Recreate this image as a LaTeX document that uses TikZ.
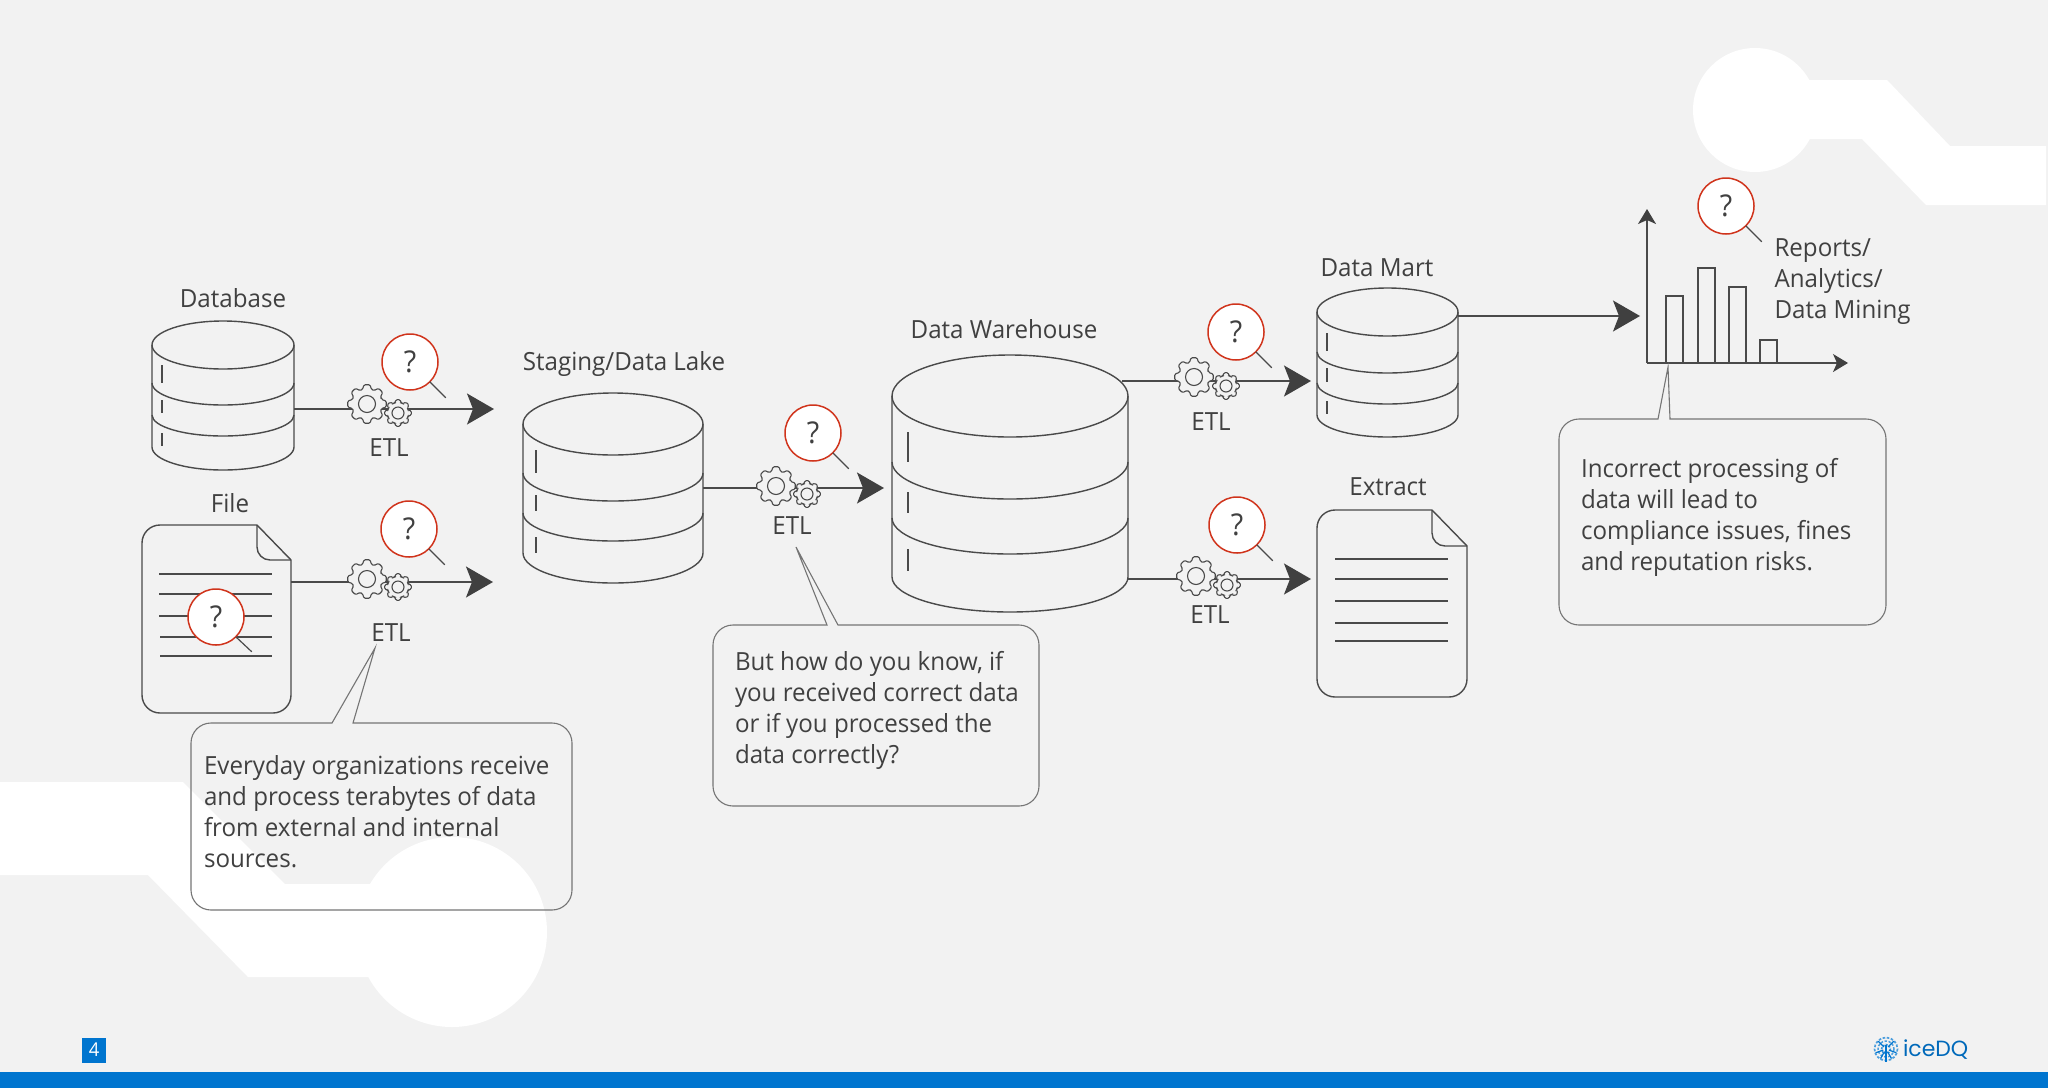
\documentclass[tikz,border=0pt]{standalone}
\usepackage{fontspec}
\setmainfont{Open Sans}[FakeStretch=0.965]
\newfontfamily\logofont{Poppins}
\usetikzlibrary{arrows.meta}
\definecolor{pagebg}{HTML}{F2F2F2}
\definecolor{ink}{HTML}{404040}
\definecolor{linegray}{HTML}{4A4A4A}
\definecolor{calloutgray}{HTML}{757575}
\definecolor{qred}{HTML}{D0341C}
\definecolor{brandblue}{HTML}{0075CF}
\tikzset{
  lab/.style={font=\fontsize{25}{31}\selectfont,text=ink,inner sep=0pt,outer sep=0pt},
  para/.style={lab,align=left,anchor=north west},
  shapeline/.style={draw=linegray,line width=1.4pt},
  tickline/.style={draw=linegray,line width=1.2pt},
  gearline/.style={draw=linegray,line width=1.1pt,fill=pagebg,rounded corners=1.3pt},
  flow/.style={draw=linegray,line width=1.5pt,-{Stealth[length=27pt,width=31pt,inset=6pt,color=ink]}},
  qmark/.style={circle,draw=qred,fill=white,line width=1.5pt,minimum size=56pt,inner sep=0pt,outer sep=0pt,
     font=\fontsize{30}{30}\selectfont,text=ink},
  handle/.style={draw=linegray,line width=1.2pt},
  callout/.style={draw=calloutgray,line width=1.1pt},
  axisline/.style={draw=linegray,line width=1.4pt,-{Stealth[length=15pt,width=18pt,inset=4pt,color=ink]}},
  bound/.style={inner sep=0pt,outer sep=0pt}
}
% cx, rx, side y, bottom y: lower half ellipse as two curves, no line drawn around it
\newcommand{\halfellipse}[4]{%
  ({#1-#2},{#3}) .. controls ({#1-#2},{#3+0.5523*(#4-#3)}) and ({#1-0.5523*#2},{#4}) .. ({#1},{#4})
  .. controls ({#1+0.5523*#2},{#4}) and ({#1+#2},{#3+0.5523*(#4-#3)}) .. ({#1+#2},{#3})
}
% name, cx, rx, ry, rim y, bottom side y, bottom y
\newcommand{\cylshape}[7]{%
  \node[bound,minimum width=2*#3pt,minimum height=#7-#5+#4 pt] (#1) at (#2,{(#7+#5-#4)/2}) {};
  \draw[shapeline] (#2,#5) ellipse[x radius=#3,y radius=#4];
  \draw[shapeline] ({#2-#3},#5) -- \halfellipse{#2}{#3}{#6}{#7} -- ({#2+#3},#5);
}
% cx, rx, side y, bottom y
\newcommand{\cylband}[4]{%
  \draw[shapeline] \halfellipse{#1}{#2}{#3}{#4};
}
% name, L, T, R, B, fold x, fold y
\newcommand{\docshape}[7]{%
  \node[bound,minimum width=#4-#2 pt,minimum height=#5-#3 pt] (#1) at ({(#2+#4)/2},{(#3+#5)/2}) {};
  \draw[shapeline] (#6,#3) -- (#4,#7) -- (#4,#5-18) arc[start angle=0,end angle=90,radius=18]
     -- (#2+18,#5) arc[start angle=90,end angle=180,radius=18]
     -- (#2,#3+18) arc[start angle=180,end angle=270,radius=18] -- cycle;
  \draw[shapeline] (#6,#3) -- (#6,#7-13) arc[start angle=180,end angle=90,radius=13] -- (#4,#7);
}
% x, y, R, inner r
\newcommand{\gearshape}[4]{%
  \draw[gearline,shift={(#1,#2)}] (-17:#3*0.78) \foreach \a in {0,45,...,315}{
     -- (\a-17:#3*0.78) -- (\a-9:#3) -- (\a+9:#3) -- (\a+17:#3*0.78) } -- cycle;
  \draw[gearline,shift={(#1,#2)}] (0,0) circle[radius=#4];
}
% bigx, bigy, smallx, smally
\newcommand{\gearpair}[4]{\gearshape{#1}{#2}{19.5}{8.5}\gearshape{#3}{#4}{13.5}{6}}
% L T R B base1 tipx tipy base2
\newcommand{\calloutshape}[8]{%
  \draw[callout] (#5,#2) -- (#6,#7) -- (#8,#2) -- (#3-20,#2) arc[start angle=270,end angle=360,radius=20]
    -- (#3,#4-20) arc[start angle=0,end angle=90,radius=20]
    -- (#1+20,#4) arc[start angle=90,end angle=180,radius=20]
    -- (#1,#2+20) arc[start angle=180,end angle=270,radius=20] -- cycle;
}
\begin{document}
\begin{tikzpicture}[x=1pt,y=-1pt]
\useasboundingbox (0,0) rectangle (2048,1088);
\fill[pagebg] (0,0) rectangle (2048,1088);
% decorative shapes
\fill[white] (1755,110) circle[radius=62];
\fill[white] (1800,80) -- (1887,80) -- (1950,146) -- (2046,146) -- (2046,205) -- (1926,205) -- (1862,139) -- (1800,139) -- cycle;
\fill[white] (452,932) circle[radius=95];
\fill[white] (0,782) -- (183,782) -- (285,884) -- (400,884) -- (400,977) -- (248,977) -- (148,875) -- (0,875) -- cycle;
% footer
\fill[brandblue] (0,1072) rectangle (2048,1088);
\node[bound,fill=brandblue,minimum width=24pt,minimum height=25pt,text=white,font=\fontsize{19}{19}\selectfont] (pagenum) at (94,1050) {4};
% logo
\begin{scope}[shift={(1886,1049)}]
  \draw[brandblue!70,line width=1.7pt,dash pattern=on 2.6pt off 1.6pt] (0,0) circle[radius=11.5];
  \draw[brandblue!70,line width=1.5pt,dash pattern=on 2.4pt off 1.6pt] (0,0) circle[radius=8];
  \draw[brandblue!80,line width=1.5pt,dash pattern=on 2pt off 1.4pt] (0,0) circle[radius=4.5];
  \foreach \a in {20,60,120,160,225,315}{
    \draw[brandblue,line width=1.2pt] (\a:3) -- (\a:11);
  }
  \draw[brandblue,line width=1.6pt] (0,-4) -- (0,13);
\end{scope}
\node[bound,anchor=base west,font=\logofont\fontsize{22}{22}\selectfont,text=brandblue!90!black] (logo) at (1903,1056) {iceDQ};

% database
\cylshape{db}{223}{71}{24}{345}{447}{470}
\cylband{223}{71}{383}{405}
\cylband{223}{71}{415}{436}
\draw[tickline] (162,365) -- (162,383) (162,400) -- (162,413) (162,433) -- (162,446);
\node[lab] (dblabel) at (233,298) {Database};
% file
\docshape{file}{142}{525}{291}{713}{257}{560}
\draw[shapeline] (159,574) -- (272,574) (159,594) -- (272,594) (159,616) -- (272,616) (160,637) -- (272,637) (160,656) -- (272,656);
\node[lab] (filelabel) at (230,503) {File};
\node[qmark] (qfile) at (216,617) {?};
\draw[handle] (qfile.south east) -- ++(16,15);
% staging
\cylshape{stg}{613}{90}{31}{424}{553}{583}
\cylband{613}{90}{473}{501}
\cylband{613}{90}{513}{541}
\draw[tickline] (536,450) -- (536,473) (536,495) -- (536,511) (536,537) -- (536,553);
\node[lab] (stglabel) at (624,364) {Staging/Data Lake};
% warehouse
\cylshape{dw}{1010}{118}{41}{396}{577}{612}
\cylband{1010}{118}{462}{499}
\cylband{1010}{118}{518}{554}
\draw[tickline] (908,432) -- (908,462) (908,492) -- (908,513) (908,549) -- (908,571);
\node[lab] (dwlabel) at (1004,329) {Data Warehouse};
% mart
\cylshape{dm}{1387.5}{70.5}{24}{312}{415}{437}
\cylband{1387.5}{70.5}{352}{373}
\cylband{1387.5}{70.5}{383}{404}
\draw[tickline] (1327,333) -- (1327,351) (1327,368) -- (1327,382) (1327,401) -- (1327,414);
\node[lab] (dmlabel) at (1377,268) {Data Mart};
% extract
\docshape{ext}{1317}{510}{1467}{697}{1432}{546}
\draw[shapeline] (1335,559) -- (1448,559) (1335,579) -- (1448,579) (1335,601) -- (1448,601) (1335,623) -- (1448,623) (1335,641) -- (1448,641);
\node[lab] (extlabel) at (1388,487) {Extract};

% connectors
\coordinate (tipa) at (494,409);
\coordinate (tipb) at (493,582);
\coordinate (tipc) at (884,488);
\coordinate (tipd) at (1311,381);
\coordinate (tipe) at (1311,579);
\coordinate (tipf) at (1640,316);
\coordinate (dwtop) at (1122,381);
\draw[flow] (db.east |- tipa) -- (tipa);
\draw[flow] (file.east |- tipb) -- (tipb);
\draw[flow] (stg.east |- tipc) -- (tipc);
\draw[flow] (dwtop) -- (tipd);
\draw[flow] (dw.east |- tipe) -- (tipe);
\draw[flow] (dm.east |- tipf) -- (tipf);

% gears
\gearpair{367}{404}{398}{413}
\gearpair{367}{579}{398}{587}
\gearpair{776}{486}{807}{494}
\gearpair{1194}{377}{1226}{386}
\gearpair{1196}{576}{1227}{585}

% ETL labels
\node[lab] (etla) at (389,448) {ETL};
\node[lab] (etlb) at (391,633) {ETL};
\node[lab] (etlc) at (792,526) {ETL};
\node[lab] (etld) at (1211,422) {ETL};
\node[lab] (etle) at (1210,615) {ETL};

% question marks
\node[qmark] (qa) at (410,362) {?};
\draw[handle] (qa.south east) -- ++(16,16);
\node[qmark] (qb) at (409,529) {?};
\draw[handle] (qb.south east) -- ++(16,16);
\node[qmark] (qc) at (813,433) {?};
\draw[handle] (qc.south east) -- ++(16,16);
\node[qmark] (qd) at (1236,332) {?};
\draw[handle] (qd.south east) -- ++(16,16);
\node[qmark] (qe) at (1237,525) {?};
\draw[handle] (qe.south east) -- ++(16,16);
\node[qmark] (qf) at (1726,206) {?};
\draw[handle] (qf.south east) -- ++(16,16);

% chart
\coordinate (org) at (1647,363);
\coordinate (ytip) at (1647,209);
\coordinate (xtip) at (1848,363);
\draw[axisline] (org) -- (ytip);
\draw[axisline] (org) -- (xtip);
\draw[shapeline] (1666,363) rectangle (1683,296);
\draw[shapeline] (1698,363) rectangle (1715,268);
\draw[shapeline] (1729,363) rectangle (1746,287);
\draw[shapeline] (1760,363) rectangle (1777,340);
\node[para] (rep) at (1774.5,238.5) {Reports/\\Analytics/\\Data Mining};

% callouts
\calloutshape{191}{723}{572}{910}{332}{375}{648}{353}
\node[para] (ca) at (204,755.5) {Everyday organizations receive\\and process terabytes of data\\from external and internal\\sources.};
\calloutshape{713}{625}{1039}{806}{827}{796}{547}{838}
\node[para] (cb) at (735,651.5) {But how do you know, if\\you received correct data\\or if you processed the\\data correctly?};
\calloutshape{1559}{419}{1886}{625}{1658}{1668}{367}{1670}
\node[para] (cc) at (1581,458.5) {Incorrect processing of\\data will lead to\\compliance issues, fines\\and reputation risks.};
\end{tikzpicture}
\end{document}
